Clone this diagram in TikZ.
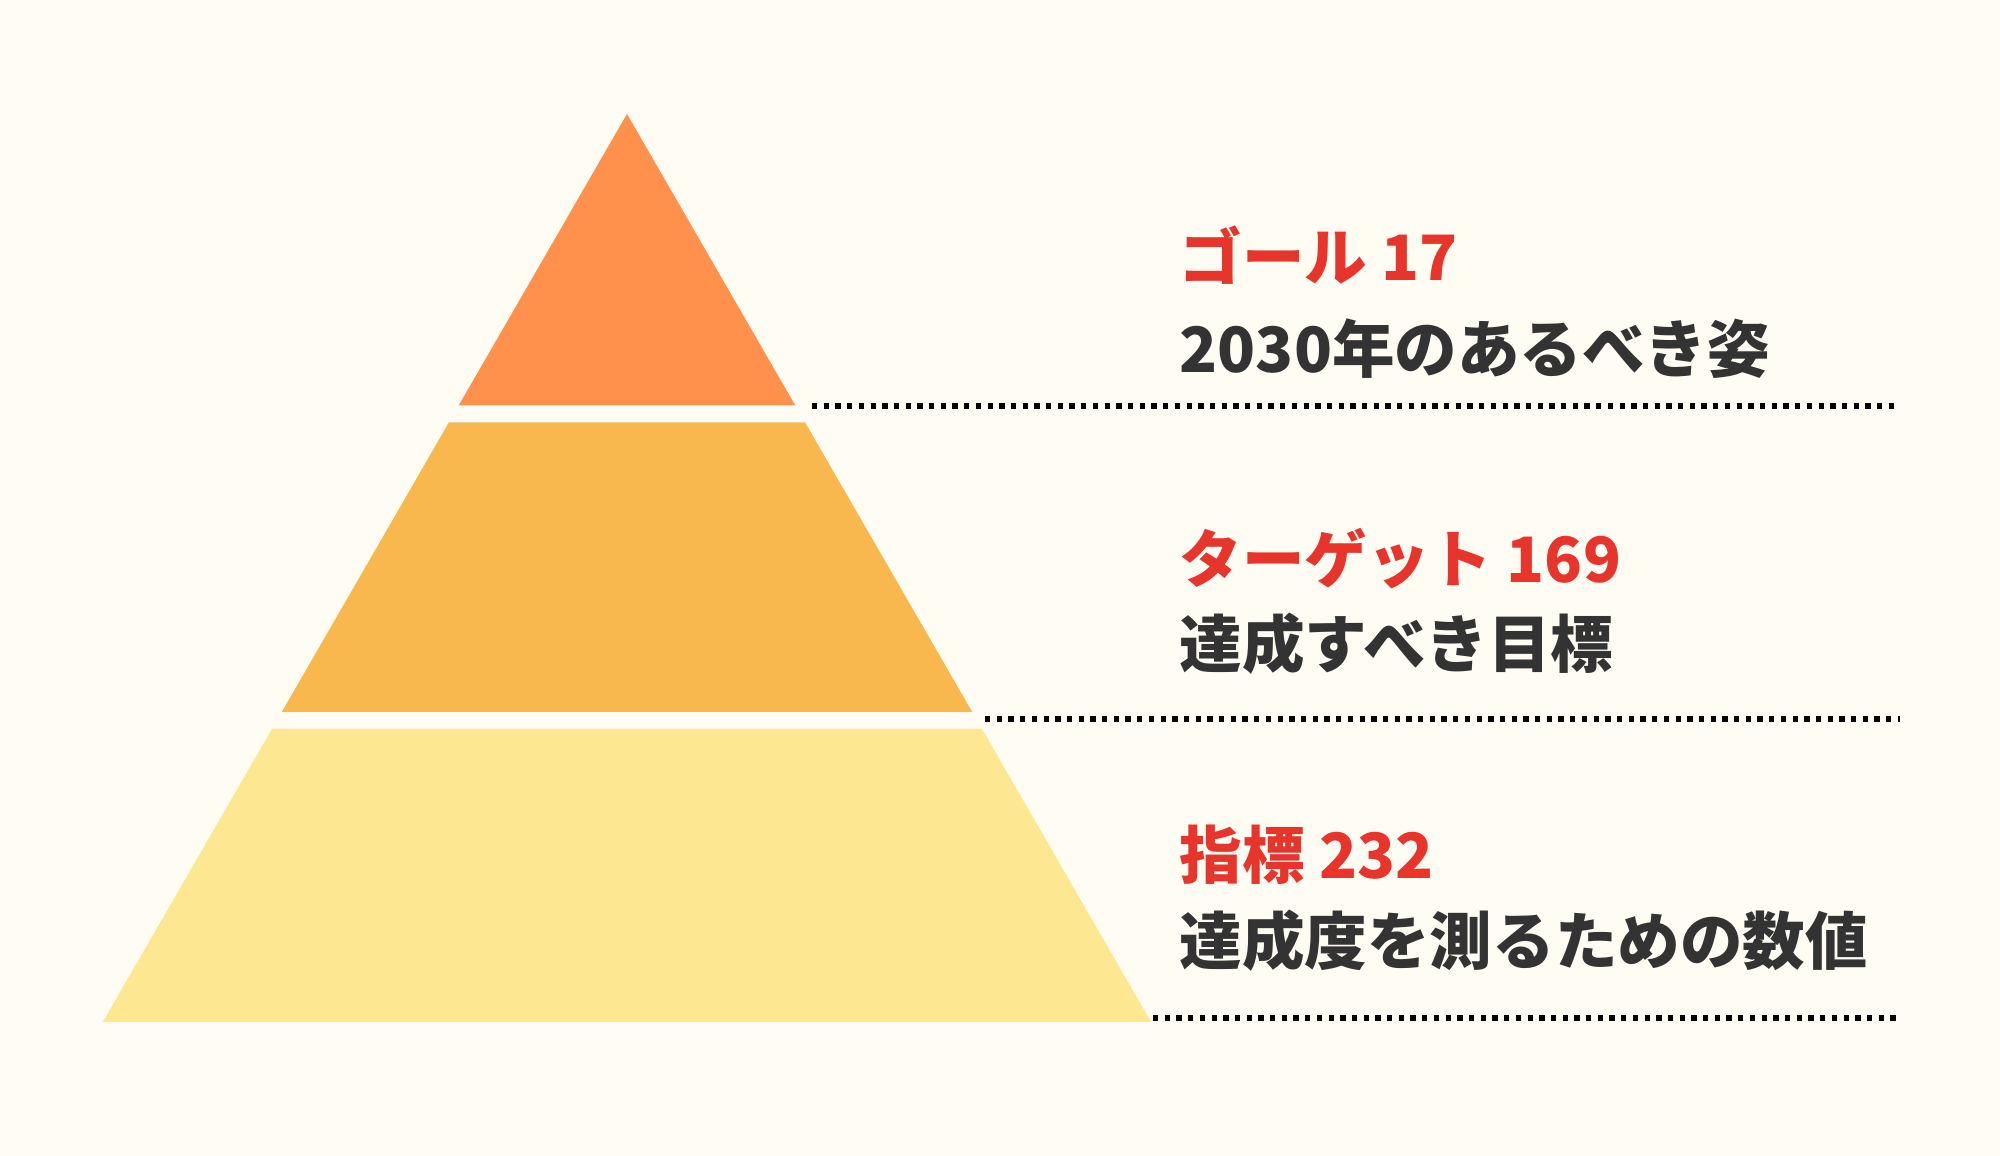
\documentclass[tikz,border=0pt]{standalone}
\usepackage{fontspec}
\setmainfont{Noto Sans CJK JP}
\usepackage{tikz}

\definecolor{bgcream}{HTML}{FFFCF3}
\definecolor{tiertop}{HTML}{FF914D}
\definecolor{tiermid}{HTML}{F8B84E}
\definecolor{tierlow}{HTML}{FDE891}
\definecolor{titlered}{HTML}{E8352B}
\definecolor{textdark}{HTML}{333333}

\tikzset{
  leader/.style={draw=black, line width=1.5pt, dash pattern=on 1.5pt off 1.83pt},
  title/.style={anchor=base west, inner sep=0pt, text=titlered,
    font=\fontsize{17.8pt}{20pt}\selectfont\bfseries},
  subline/.style={anchor=base west, inner sep=0pt, text=textdark,
    font=\fontsize{17.8pt}{20pt}\selectfont\bfseries}
}

\begin{document}
\begin{tikzpicture}
	\fill[bgcream] (0,0) rectangle (20,11.56);
	\useasboundingbox (0,0) rectangle (20,11.56);
	% pyramid tiers
	\fill[tiertop] (6.27,10.42) -- (7.953,7.505) -- (4.587,7.505) -- cycle;
	\fill[tiermid] (4.489,7.335) -- (8.051,7.335) -- (9.722,4.44) -- (2.818,4.44) -- cycle;
	\fill[tierlow] (2.72,4.27) -- (9.82,4.27) -- (11.51,1.34) -- (1.028,1.34) -- cycle;
	% leader lines
	\coordinate (topend) at (8.12,7.50);
	\coordinate (midend) at (9.85,4.37);
	\coordinate (lowend) at (11.53,1.38);
	\coordinate (topright) at (19.0,7.50);
	\coordinate (midright) at (19.0,4.37);
	\coordinate (lowright) at (19.0,1.38);
	\draw[leader] (topend) -- (topright);
	\draw[leader] (midend) -- (midright);
	\draw[leader] (lowend) -- (lowright);
	% labels
	\node[title] (goal) at (11.79,8.75) {ゴール 17};
	\node[subline] (goaltext) at (11.79,7.83) {2030年のあるべき姿};
	\node[title] (target) at (11.79,5.73) {ターゲット 169};
	\node[subline] (targettext) at (11.79,4.88) {達成すべき目標};
	\node[title] (indicator) at (11.79,2.77) {指標 232};
	\node[subline] (indicatortext) at (11.79,1.91) {達成度を測るための数値};
\end{tikzpicture}
\end{document}
